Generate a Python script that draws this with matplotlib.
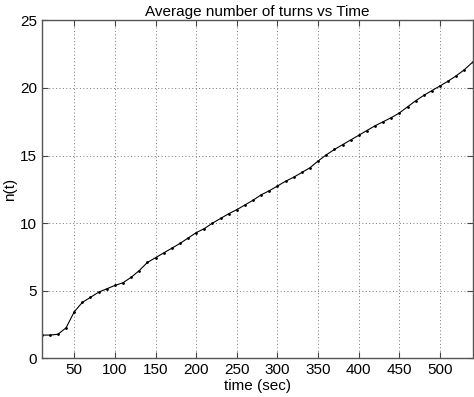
import matplotlib
matplotlib.use("Agg")
import matplotlib.pyplot as plt
import numpy as np

# time samples (sec) and average number of turns
t = np.arange(10, 550, 10)
n = [1.73, 1.73, 1.79, 2.27, 3.45, 4.15, 4.52, 4.9, 5.15, 5.4,
     5.6, 6.0, 6.5, 7.1, 7.45, 7.8, 8.15, 8.5, 8.9, 9.3,
     9.6, 10.0, 10.35, 10.7, 11.0, 11.35, 11.7, 12.1, 12.4, 12.75,
     13.1, 13.4, 13.75, 14.1, 14.6, 15.05, 15.45, 15.8, 16.15, 16.5,
     16.85, 17.2, 17.5, 17.8, 18.15, 18.6, 19.05, 19.45, 19.8, 20.15,
     20.5, 20.9, 21.35, 21.9]

xticks = [50, 100, 150, 200, 250, 300, 350, 400, 450, 500]
yticks = [0, 5, 10, 15, 20, 25]

plt.rcParams['font.family'] = ['Liberation Sans', 'DejaVu Sans']
plt.rcParams['font.size'] = 11

fig = plt.figure(figsize=(4.74, 3.97), dpi=100)
ax = fig.add_axes([0.088, 0.097, 0.909, 0.852])

ax.plot(t, n, color='black', linewidth=0.8, marker='.', markersize=2)

ax.set_xlim(10, 540)
ax.set_ylim(0, 25)
ax.set_xticks(xticks)
ax.set_yticks(yticks)
ax.grid(True, linestyle=(0, (1, 2.5)), color='#777777', linewidth=0.7)
ax.tick_params(direction='in', top=True, right=True, length=4, color='#444444')
for s in ax.spines.values():
    s.set_color('#555555')
    s.set_linewidth(1.0)

ax.set_title("Average number of turns vs Time", fontsize=11, pad=3)
ax.set_xlabel("time (sec)", labelpad=1)
ax.set_ylabel("n(t)", labelpad=2)

fig.savefig("out.png", dpi=100)
